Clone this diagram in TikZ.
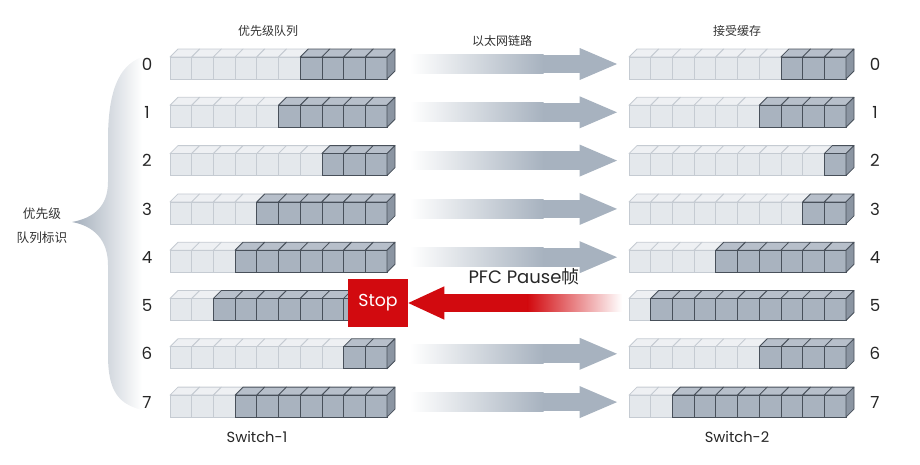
\documentclass[tikz,border=0pt]{standalone}
\usepackage{fontspec}
\setmainfont{Poppins}
\newfontfamily\cjk{Noto Sans CJK SC}
\definecolor{ltop}{HTML}{EEF0F3}
\definecolor{lfront}{HTML}{E4E8EC}
\definecolor{lside}{HTML}{D3D8DE}
\definecolor{ledge}{HTML}{C5CBD2}
\definecolor{dtop}{HTML}{B7BFCA}
\definecolor{dfront}{HTML}{A9B3BF}
\definecolor{dside}{HTML}{8B95A2}
\definecolor{dedge}{HTML}{48505A}
\definecolor{arrgray}{HTML}{A7B2BF}
\definecolor{pfcred}{HTML}{D20A0F}
\definecolor{bracegray}{HTML}{A3AEBB}
\newcommand\onecube[3]{% x, y front-top, prefix
  \filldraw[fill=#3top, draw=#3edge, line width=0.6pt, line join=round] (#1,#2) -- ++(8,-8) -- ++(21.7,0) -- ++(-8,8) -- cycle;
  \filldraw[fill=#3front, draw=#3edge, line width=0.6pt] (#1,#2) rectangle ++(21.7,22);
}
\newcommand\qrow[3]{% x0, yc, number of light cubes
  \foreach \k in {0,...,9}{%
    \pgfmathsetmacro\xa{#1+\k*21.7}%
    \pgfmathsetmacro\ya{#2-7}%
    \ifnum\k<#3 \onecube{\xa}{\ya}{l}\else \onecube{\xa}{\ya}{d}\fi
  }%
  \pgfmathsetmacro\xb{#1+217}%
  \pgfmathsetmacro\yb{#2-7}%
  \filldraw[fill=dside, draw=dedge, line width=0.6pt, line join=round] (\xb,\yb) -- ++(8,-8) -- ++(0,22) -- ++(-8,8) -- cycle;
}
\begin{document}
\begin{tikzpicture}[x=0.75pt,y=-0.75pt, font=\fontsize{12.5pt}{15pt}\selectfont,
  lbl/.style={inner sep=0pt, text=black!85},
  ttl/.style={inner sep=0pt, font=\cjk\fontsize{9pt}{11pt}\selectfont, text=black!80}]
\useasboundingbox (0,0) rectangle (920,464);
% brace
\shade[left color=bracegray, right color=white]
  (142,57) .. controls (117,66) and (108,95) .. (108,140)
  -- (108,182) .. controls (108,206) and (94,218) .. (72,222)
  .. controls (94,226) and (108,240) .. (108,265)
  -- (108,355) .. controls (108,392) and (119,404) .. (142,410)
  -- cycle;
\node[ttl, align=center, font=\cjk\fontsize{9.5pt}{11pt}\selectfont] (brl) at (42,226) {优先级\\[7pt]队列标识};
% titles
\node[ttl] (t1) at (268,31) {优先级队列};
\node[ttl] (t2) at (502,41) {以太网链路};
\node[ttl] (t3) at (737,31) {接受缓存};
% rows
\foreach \i/\nl/\nr in {0/6/7, 1/5/6, 2/7/9, 3/4/8, 4/3/4, 5/2/1, 6/8/6, 7/3/2}{
  \pgfmathsetmacro\yc{64+48.3*\i}
  \qrow{170}{\yc}{\nl}
  \qrow{629}{\yc}{\nr}
  \node[lbl] (ln\i) at (147,\yc) {\i};
  \node[lbl] (rn\i) at (875,\yc) {\i};
  \coordinate (as\i) at (410,\yc);
  \coordinate (ae\i) at (617,\yc);
}
% gray arrows
\foreach \i in {0,1,2,3,4,6,7}{
  \shade[left color=white, right color=arrgray] ([yshift=-7]as\i) rectangle ([xshift=-55,yshift=7]ae\i);
  \fill[arrgray] ([xshift=-55.5,yshift=-7]ae\i) rectangle ([xshift=-27,yshift=7]ae\i);
  \fill[arrgray] ([xshift=-28,yshift=-12]ae\i) -- (ae\i) -- ([xshift=-28,yshift=12]ae\i) -- cycle;
}
% stop and red arrow
\node[fill=pfcred, text=white, minimum width=45pt, minimum height=36pt, inner sep=0pt, font=\fontsize{13pt}{15pt}\selectfont] (stop) at (378,303) {Stop};
\coordinate (rs) at (622,303);
\fill[pfcred] (stop.east) -- ([xshift=27,yshift=-12.5]stop.east) -- ([xshift=27,yshift=12.5]stop.east) -- cycle;
\fill[pfcred] ([xshift=26,yshift=-6.5]stop.east) rectangle ([xshift=90,yshift=6.5]stop.east);
\shade[left color=pfcred, right color=white] ([xshift=89.5,yshift=-6.5]stop.east) rectangle ([yshift=6.5]rs);
\node[lbl, font=\fontsize{13.5pt}{16pt}\selectfont] (pfc) at (524,277) {PFC Pause{\cjk 帧}};
% switch labels
\node[lbl, font=\fontsize{11pt}{13pt}\selectfont] (sw1) at (257,437) {Switch-1};
\node[lbl, font=\fontsize{11pt}{13pt}\selectfont] (sw2) at (737,437) {Switch-2};
\end{tikzpicture}
\end{document}
